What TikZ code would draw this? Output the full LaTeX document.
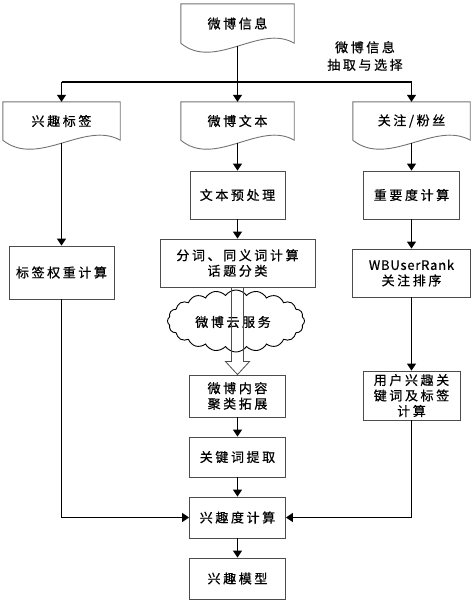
\documentclass[tikz,border=0pt]{standalone}
\usepackage{fontspec}
\setmainfont{Noto Sans CJK SC}[LetterSpace=20, FakeBold=0.6]
\usetikzlibrary{arrows.meta,shapes.symbols,calc}
\newcommand\docoutline[1]{%
  \draw[docline] (#1.south west) -- (#1.north west) -- (#1.north east) -- (#1.south east)
    .. controls ($(#1.south west)!0.7!(#1.south east)+(0,-20)$) and ($(#1.south west)!0.3!(#1.south east)+(0,28)$) .. (#1.south west) -- cycle;}
\begin{document}
\begin{tikzpicture}[x=1pt,y=-1pt,
  every node/.style={font=\fontsize{13}{15.5}\selectfont, align=center, inner sep=0pt},
  docbox/.style={draw=none},
  docline/.style={draw=black!55, line width=0.9pt},
  procbox/.style={draw=black!70, line width=0.9pt, fill=white},
  conn/.style={draw=black, line width=1.1pt},
  arr/.style={conn, -{Triangle[length=7pt,width=9pt]}},
  hollow/.style={draw=black!70, line width=0.8pt}]
\useasboundingbox (0,0) rectangle (474,605);
% document shapes
\node[docbox, minimum width=113pt, minimum height=39pt] (d1) at (237.5,23.5) {微博信息};
\node[docbox, minimum width=117pt, minimum height=38pt] (d2) at (61.5,121) {兴趣标签};
\node[docbox, minimum width=113pt, minimum height=38pt] (d3) at (237.5,121) {微博文本};
\node[docbox, minimum width=117pt, minimum height=38pt] (d4) at (411.5,121) {关注/粉丝};
\docoutline{d1}
\docoutline{d2}
\docoutline{d3}
\docoutline{d4}
% label
\node[font=\fontsize{13}{17.5}\selectfont] (lab) at (365,56) {微博信息\\抽取与选择};
% process boxes
\node[procbox, minimum width=95pt, minimum height=48pt] (tp) at (237.5,195) {文本预处理};
\node[procbox, minimum width=96pt, minimum height=48pt] (zy) at (411.5,195) {重要度计算};
\node[procbox, minimum width=155pt, minimum height=48pt] (fc) at (237.5,263) {分词、同义词计算\\话题分类};
\node[procbox, minimum width=118pt, minimum height=48pt] (wb) at (411.5,273) {{\addfontfeature{LetterSpace=6}WBUserRank}\\关注排序};
\node[procbox, minimum width=105pt, minimum height=53pt] (bq) at (61.5,272.5) {标签权重计算};
\node[procbox, minimum width=96pt, minimum height=42pt] (nr) at (237.5,396) {微博内容\\聚类拓展};
\node[procbox, minimum width=97pt, minimum height=49pt] (yh) at (411.5,395.5) {用户兴趣关\\键词及标签\\计算};
\node[procbox, minimum width=96pt, minimum height=40pt] (gj) at (237.5,457) {关键词提取};
\node[procbox, minimum width=96pt, minimum height=41pt] (xq) at (237.5,517.5) {兴趣度计算};
\node[procbox, minimum width=96pt, minimum height=41pt] (mx) at (237.5,578.5) {兴趣模型};
% cloud
\node[cloud, draw=black, line width=0.9pt, cloud puffs=20, cloud puff arc=110, aspect=2.2,
      minimum width=137pt, minimum height=62pt] (cl) at (236,321) {};
\node (clt) at (233,322) {微博云服务};
% connectors top
\coordinate (d1b) at ([yshift=-3pt]d1.south);
\coordinate (split) at (237.5,82);
\draw[arr] (d1b) -- (d3.north);
\draw[conn] (d2.north |- split) -- (d4.north |- split);
\draw[arr] (d2.north |- split) -- (d2.north);
\draw[arr] (d4.north |- split) -- (d4.north);
% left column
\draw[arr] ([yshift=-3pt]d2.south) -- (bq.north);
\draw[arr] (bq.south) |- (xq.west);
% center column
\draw[arr] ([yshift=-3pt]d3.south) -- (tp.north);
\draw[arr] (tp.south) -- (fc.north);
\draw[hollow] ([xshift=-6pt]fc.south) -- ([xshift=-6pt,yshift=13pt]nr.north)
  -- ([xshift=-12pt,yshift=13pt]nr.north) -- (nr.north)
  -- ([xshift=12pt,yshift=13pt]nr.north) -- ([xshift=6pt,yshift=13pt]nr.north)
  -- ([xshift=6pt]fc.south);
\draw[arr] (nr.south) -- (gj.north);
\draw[arr] (gj.south) -- (xq.north);
\draw[arr] (xq.south) -- (mx.north);
% right column
\draw[arr] ([yshift=-3pt]d4.south) -- (zy.north);
\draw[arr] (zy.south) -- (wb.north);
\draw[arr] (wb.south) -- (yh.north);
\draw[arr] (yh.south) |- (xq.east);
\end{tikzpicture}
\end{document}
